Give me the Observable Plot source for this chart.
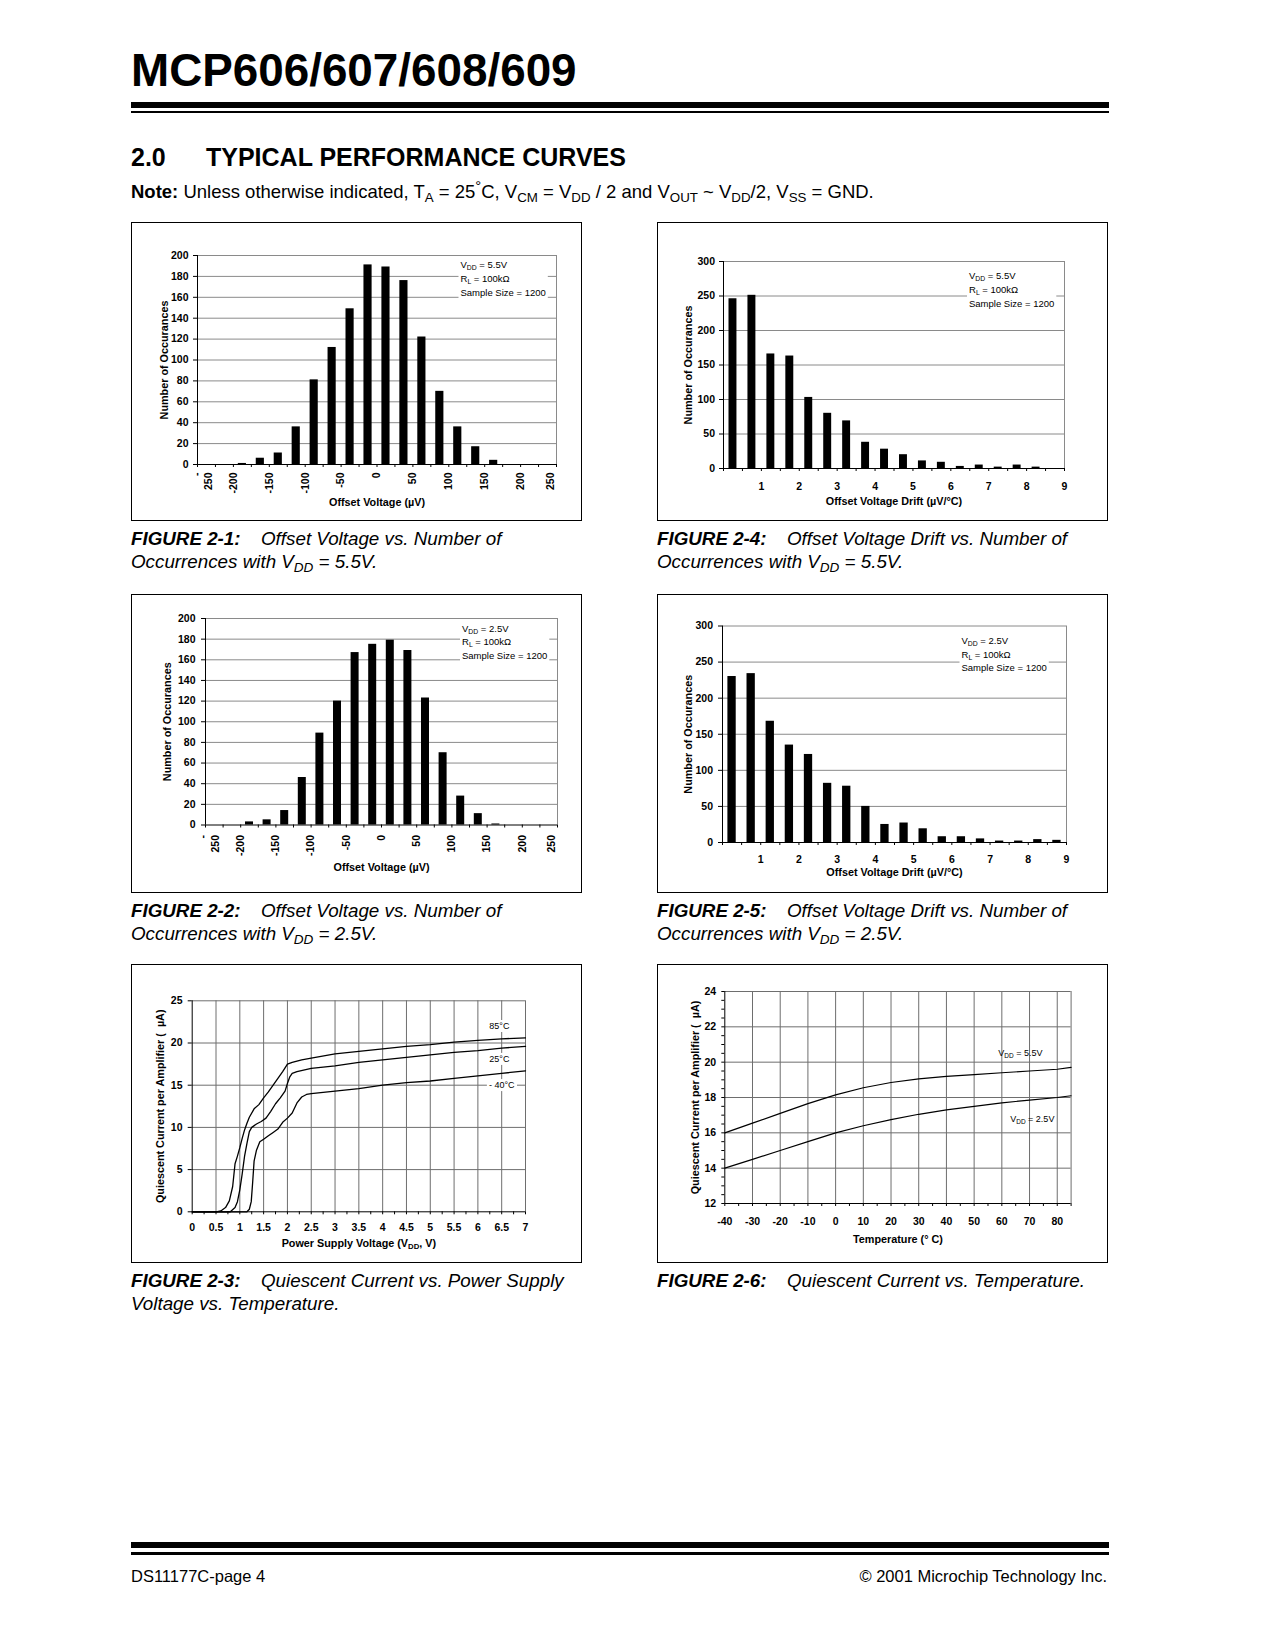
<!DOCTYPE html>
<html><head><meta charset="utf-8">
<script src="https://cdn.jsdelivr.net/npm/d3@7"></script>
<script src="https://cdn.jsdelivr.net/npm/@observablehq/plot@0.6"></script>
<style>
body{margin:0;background:#fff;}
#page{position:relative;width:1275px;height:1650px;font-family:'Liberation Sans',Arial,Helvetica,sans-serif;color:#000;overflow:hidden;background:#fff;}
.abs{position:absolute;white-space:nowrap;}
.rule{position:absolute;background:#000;}
.hd{font-size:25px;font-weight:bold;line-height:25px;}
.note{font-size:18.5px;line-height:18.5px;}
.box{position:absolute;width:451px;height:299px;}
.box .frame{position:absolute;left:0;top:0;right:0;bottom:0;border:1px solid #000;box-sizing:border-box;pointer-events:none;}
.box svg{position:absolute;left:0;top:0;}
.cap{position:absolute;white-space:nowrap;font-size:18.8px;line-height:23px;font-style:italic;}
.cap b{display:inline-block;width:130px;font-weight:bold;}
sub{font-size:72%;line-height:0;vertical-align:-0.28em;}
sup{font-size:80%;line-height:0;vertical-align:0.45em;}
.foot{font-size:16.5px;line-height:16.5px;}
</style></head>
<body>
<div id="page">
  <div class="abs" style="left:131px;top:48.3px;font-size:45.8px;line-height:45.8px;font-weight:bold;">MCP606/607/608/609</div>
  <div class="rule" style="left:131px;top:102px;width:978px;height:6px;"></div>
  <div class="rule" style="left:131px;top:111px;width:978px;height:2px;"></div>
  <div class="abs hd" style="left:131px;top:144.8px;">2.0</div>
  <div class="abs hd" style="left:206px;top:144.8px;">TYPICAL PERFORMANCE CURVES</div>
  <div class="abs note" style="left:131px;top:182.8px;"><b>Note:</b> Unless otherwise indicated, T<sub>A</sub> = 25<sup>°</sup>C, V<sub>CM</sub> = V<sub>DD</sub> / 2 and V<sub>OUT</sub> ~ V<sub>DD</sub>/2, V<sub>SS</sub> = GND.</div>

  <div class="box" id="figA" style="left:131px;top:222px;"><div class="frame"></div></div>
  <div class="box" id="figB" style="left:657px;top:222px;"><div class="frame"></div></div>
  <div class="cap" style="left:131px;top:527px;"><b>FIGURE 2-1:</b>Offset Voltage vs. Number of<br>Occurrences with V<sub>DD</sub> = 5.5V.</div>
  <div class="cap" style="left:657px;top:527px;"><b>FIGURE 2-4:</b>Offset Voltage Drift vs. Number of<br>Occurrences with V<sub>DD</sub> = 5.5V.</div>

  <div class="box" id="figC" style="left:131px;top:594px;"><div class="frame"></div></div>
  <div class="box" id="figD" style="left:657px;top:594px;"><div class="frame"></div></div>
  <div class="cap" style="left:131px;top:899px;"><b>FIGURE 2-2:</b>Offset Voltage vs. Number of<br>Occurrences with V<sub>DD</sub> = 2.5V.</div>
  <div class="cap" style="left:657px;top:899px;"><b>FIGURE 2-5:</b>Offset Voltage Drift vs. Number of<br>Occurrences with V<sub>DD</sub> = 2.5V.</div>

  <div class="box" id="figE" style="left:131px;top:964px;"><div class="frame"></div></div>
  <div class="box" id="figF" style="left:657px;top:964px;"><div class="frame"></div></div>
  <div class="cap" style="left:131px;top:1269px;"><b>FIGURE 2-3:</b>Quiescent Current vs. Power Supply<br>Voltage vs. Temperature.</div>
  <div class="cap" style="left:657px;top:1269px;"><b>FIGURE 2-6:</b>Quiescent Current vs. Temperature.</div>

  <div class="rule" style="left:131px;top:1542px;width:978px;height:6px;"></div>
  <div class="rule" style="left:131px;top:1552px;width:978px;height:2.5px;"></div>
  <div class="abs foot" style="left:131px;top:1568px;">DS11177C-page 4</div>
  <div class="abs foot" style="right:168px;top:1568px;">© 2001 Microchip Technology Inc.</div>
</div>
<script>
// ---------------- DATA ----------------
// Figure 2-1: Offset Voltage histogram, VDD = 5.5V (bins of 25 µV)
const fig1BinLo = [-250,-225,-200,-175,-150,-125,-100,-75,-50,-25,0,25,50,75,100,125,150,175,200,225];
const fig1Counts = [0,0,1,6,11,36,81,112,149,191,189,176,122,70,36,17,4,0,0,0];
const fig1YTicks = [0,20,40,60,80,100,120,140,160,180,200];
const fig1XTickValues = [-250,-200,-150,-100,-50,0,50,100,150,200,250];
const fig1XTickLabels = ["- 250","-200","-150","-100","-50","0","50","100","150","200","250"];
const fig1Notes = ["V_{DD} = 5.5V","R_{L} = 100kΩ","Sample Size = 1200"];

// Figure 2-2: Offset Voltage histogram, VDD = 2.5V
const fig2BinLo = [-250,-225,-200,-175,-150,-125,-100,-75,-50,-25,0,25,50,75,100,125,150,175,200,225];
const fig2Counts = [0,0,3,5,14,46,89,120,167,175,179,169,123,70,28,11,1,0,0,0];
const fig2YTicks = [0,20,40,60,80,100,120,140,160,180,200];
const fig2XTickValues = [-250,-200,-150,-100,-50,0,50,100,150,200,250];
const fig2XTickLabels = ["- 250","-200","-150","-100","-50","0","50","100","150","200","250"];
const fig2Notes = ["V_{DD} = 2.5V","R_{L} = 100kΩ","Sample Size = 1200"];

// Figure 2-4: Offset Voltage Drift histogram, VDD = 5.5V (bins of 0.5 µV/°C)
const fig4BinLo = [0,0.5,1,1.5,2,2.5,3,3.5,4,4.5,5,5.5,6,6.5,7,7.5,8,8.5];
const fig4Counts = [246,251,166,163,103,80,69,38,28,20,11,9,3,5,2,5,2,0];
const fig4YTicks = [0,50,100,150,200,250,300];
const fig4XTickValues = [1,2,3,4,5,6,7,8,9];
const fig4XTickLabels = ["1","2","3","4","5","6","7","8","9"];
const fig4Notes = ["V_{DD} = 5.5V","R_{L} = 100kΩ","Sample Size = 1200"];

// Figure 2-5: Offset Voltage Drift histogram, VDD = 2.5V
const fig5BinLo = [0,0.5,1,1.5,2,2.5,3,3.5,4,4.5,5,5.5,6,6.5,7,7.5,8,8.5];
const fig5Counts = [230,234,168,135,122,82,78,50,25,27,19,8,8,5,2,2,4,3];
const fig5YTicks = [0,50,100,150,200,250,300];
const fig5XTickValues = [1,2,3,4,5,6,7,8,9];
const fig5XTickLabels = ["1","2","3","4","5","6","7","8","9"];
const fig5Notes = ["V_{DD} = 2.5V","R_{L} = 100kΩ","Sample Size = 1200"];

// Figure 2-3: Quiescent current vs supply voltage, [VDD (V), IQ (µA)]
const fig3T85 = [[0,0],[0.5,0],[0.6,0.1],[0.7,0.5],[0.78,1.3],[0.85,3.0],[0.9,5.7],[0.95,6.6],[1.0,7.6],[1.05,8.7],[1.1,9.7],[1.15,10.5],[1.2,11.2],[1.3,12.2],[1.4,12.7],[1.5,13.5],[1.6,14.2],[1.7,15.0],[1.8,15.8],[1.9,16.6],[2.0,17.5],[2.1,17.7],[2.3,18.0],[2.5,18.2],[3.0,18.7],[3.5,19.0],[4.0,19.3],[4.5,19.6],[5.0,19.8],[5.5,20.1],[6.0,20.3],[6.5,20.5],[7.0,20.6]];
const fig3T25 = [[0,0],[0.8,0],[0.9,0.5],[0.95,1.2],[1.0,2.6],[1.05,4.5],[1.1,6.6],[1.15,8.1],[1.2,9.5],[1.25,10.0],[1.35,10.4],[1.45,10.7],[1.55,11.1],[1.65,11.9],[1.75,12.8],[1.85,13.5],[1.95,14.3],[2.0,15.2],[2.05,16.0],[2.1,16.4],[2.2,16.6],[2.5,17.0],[3.0,17.3],[3.5,17.7],[4.0,18.0],[4.5,18.3],[5.0,18.6],[5.5,18.9],[6.0,19.1],[6.5,19.4],[7.0,19.6]];
const fig3Tm40 = [[0,0],[1.15,0],[1.2,0.3],[1.24,1.2],[1.27,3.5],[1.3,6.0],[1.35,7.3],[1.42,8.3],[1.5,8.6],[1.6,9.0],[1.7,9.4],[1.8,9.8],[1.9,10.6],[2.0,11.1],[2.1,11.7],[2.2,12.9],[2.3,13.6],[2.4,13.9],[2.5,14.0],[3.0,14.3],[3.5,14.6],[4.0,15.0],[4.5,15.3],[5.0,15.5],[5.5,15.8],[6.0,16.1],[6.5,16.4],[7.0,16.7]];
const fig3YTicks = [0,5,10,15,20,25];
const fig3XTickValues = [0,0.5,1,1.5,2,2.5,3,3.5,4,4.5,5,5.5,6,6.5,7];
const fig3XTickLabels = ["0","0.5","1","1.5","2","2.5","3","3.5","4","4.5","5","5.5","6","6.5","7"];
const fig3SeriesLabels = ["85°C","25°C","- 40°C"];
const fig3LabelAt = [[6.45,22.0],[6.45,18.1],[6.5,15.0]];

// Figure 2-6: Quiescent current vs temperature, [T (°C), IQ (µA)]
const fig6Vdd55 = [[-40,16.0],[-30,16.55],[-20,17.1],[-10,17.65],[0,18.15],[10,18.55],[20,18.85],[30,19.05],[40,19.2],[50,19.3],[60,19.4],[70,19.5],[80,19.6],[85,19.7]];
const fig6Vdd25 = [[-40,14.0],[-30,14.5],[-20,15.0],[-10,15.5],[0,16.0],[10,16.4],[20,16.75],[30,17.05],[40,17.3],[50,17.5],[60,17.7],[70,17.85],[80,18.0],[85,18.1]];
const fig6YTicks = [12,14,16,18,20,22,24];
const fig6XTickValues = [-40,-30,-20,-10,0,10,20,30,40,50,60,70,80];
const fig6XTickLabels = ["-40","-30","-20","-10","0","10","20","30","40","50","60","70","80"];
const fig6SeriesLabels = ["V_{DD} = 5.5V","V_{DD} = 2.5V"];
const fig6LabelAt = [[66.7,20.5],[71,16.8]];

// ---------------- HELPERS ----------------
const FONT = "'Liberation Sans', Arial, Helvetica, sans-serif";
const GRID_H = "#8a8a8a", GRID_L = "#6e6e6e";
const FS_TICK = 10.5, FS_TITLE = 10.8, FS_NOTE = 9.5;
const W = 451, H = 299;
const SVGNS = "http://www.w3.org/2000/svg";
const styleObj = {fontFamily: FONT, fontSize: "10.5px", background: "transparent", overflow: "visible"};

function ticksX(vals, size){ return Plot.axisX ? Plot.axisX({ticks: vals, tickSize: size, tickFormat: () => "", label: null}) : null; }
function ticksY(vals, size){ return Plot.axisY ? Plot.axisY({ticks: vals, tickSize: size, tickFormat: () => "", label: null}) : null; }
function yLabels(vals, dx){
  return Plot.text(vals, {y: d => d, text: d => String(d), frameAnchor: "left", textAnchor: "end", lineAnchor: "middle", dx, fontWeight: "bold", fontSize: FS_TICK});
}
function xLabelsFlat(vals, labels, dy){
  return Plot.text(vals, {x: d => d, text: (d, i) => labels[i], frameAnchor: "bottom", textAnchor: "middle", lineAnchor: "middle", dy, fontWeight: "bold", fontSize: FS_TICK});
}
function xLabelsRot(vals, labels, dy, firstDx, lastDx){
  const n = vals.length;
  const mid = vals.slice(1, n - 1).map((v, i) => ({v, t: labels[i + 1]}));
  const parts = labels[0].split(" ");
  const common = {frameAnchor: "bottom", rotate: -90, textAnchor: "end", lineAnchor: "middle", dy, fontWeight: "bold", fontSize: FS_TICK};
  return [
    Plot.text(mid, {x: "v", text: "t", ...common}),
    Plot.text([vals[0]], {x: d => d, text: () => parts[0], ...common, dx: firstDx[0]}),
    Plot.text([vals[0]], {x: d => d, text: () => parts[1], ...common, dx: firstDx[1]}),
    Plot.text([vals[n - 1]], {x: d => d, text: () => labels[n - 1], ...common, dx: lastDx})
  ];
}
function yTitle(t, dx){ return Plot.text([t], {text: d => d, frameAnchor: "left", rotate: -90, textAnchor: "middle", lineAnchor: "middle", dx, fontWeight: "bold", fontSize: FS_TITLE}); }
function xTitle(t, dy){ return Plot.text([t], {text: d => d, frameAnchor: "bottom", textAnchor: "middle", lineAnchor: "middle", dy, fontWeight: "bold", fontSize: FS_TITLE}); }

function histChart(c){
  const data = c.lo.map((lo, i) => ({lo, hi: lo + c.binW, n: c.counts[i]}));
  const [x0, x1] = c.xDomain, [y0] = c.yDomain;
  const edges = c.lo.concat([x1]);
  return Plot.plot({
    width: W, height: H, ...c.margins, style: styleObj,
    x: {domain: c.xDomain, label: null}, y: {domain: c.yDomain, label: null},
    marks: [
      Plot.ruleY(c.yTicks.filter(v => v > y0), {stroke: GRID_H, strokeWidth: 1}),
      Plot.ruleX([x1], {stroke: GRID_H, strokeWidth: 1}),
      Plot.rectY(data, {x1: "lo", x2: "hi", y: "n", fill: "black", insetLeft: c.inset, insetRight: c.inset}),
      Plot.text(["¤" + c.notes.join("\n")], {text: d => d, frameAnchor: "top-right", textAnchor: "start", lineAnchor: "top", dx: c.noteDx, dy: c.noteDy, lineHeight: c.noteLH, fontSize: FS_NOTE}),
      Plot.ruleX([x0], {stroke: "black"}),
      Plot.ruleY([y0], {stroke: "black"}),
      ticksY(c.yTicks, 4),
      ticksX(edges, 3),
      yLabels(c.yTicks, c.yLabDx),
      c.xLabels,
      yTitle("Number of Occurances", c.yTitleDx),
      xTitle(c.xTitle, c.xTitleDy)
    ].flat().filter(Boolean)
  });
}

function finish(svg){
  const bg = [];
  svg.querySelectorAll("text").forEach(t => {
    if (t.textContent.indexOf("¤") >= 0) {
      bg.push(t);
      const w = document.createTreeWalker(t, NodeFilter.SHOW_TEXT);
      let n; while ((n = w.nextNode())) n.nodeValue = n.nodeValue.replace(/¤/g, "");
    }
    const tsp = Array.from(t.querySelectorAll("tspan"));
    const targets = tsp.length ? tsp : [t];
    const fs = parseFloat(getComputedStyle(t).fontSize) || 10;
    targets.forEach(node => {
      const s = node.textContent;
      if (!/[_^]\{/.test(s)) return;
      while (node.firstChild) node.removeChild(node.firstChild);
      const re = /([_^])\{([^}]*)\}/g; let last = 0, m;
      while ((m = re.exec(s))) {
        if (m.index > last) node.appendChild(document.createTextNode(s.slice(last, m.index)));
        const ts = document.createElementNS(SVGNS, "tspan");
        ts.setAttribute("font-size", (fs * 0.72).toFixed(2));
        ts.setAttribute("baseline-shift", m[1] === "_" ? (-fs * 0.22).toFixed(2) : (fs * 0.35).toFixed(2));
        ts.textContent = m[2];
        node.appendChild(ts);
        last = re.lastIndex;
      }
      if (last < s.length) node.appendChild(document.createTextNode(s.slice(last)));
    });
  });
  bg.forEach(t => {
    const b = t.getBBox();
    const r = document.createElementNS(SVGNS, "rect");
    r.setAttribute("x", b.x - 2); r.setAttribute("y", b.y - 1);
    r.setAttribute("width", b.width + 4); r.setAttribute("height", b.height + 2);
    r.setAttribute("fill", "white");
    const tr = t.getAttribute("transform"); if (tr) r.setAttribute("transform", tr);
    t.parentNode.insertBefore(r, t);
  });
}
function place(id, svg){ const box = document.getElementById(id); box.insertBefore(svg, box.firstChild); finish(svg); }

// ---------------- CHARTS ----------------
place("figA", histChart({
  lo: fig1BinLo, counts: fig1Counts, binW: 25, inset: 4.9,
  xDomain: [-250, 250], yDomain: [0, 200], yTicks: fig1YTicks,
  margins: {marginLeft: 66, marginRight: 26, marginTop: 33, marginBottom: 57},
  notes: fig1Notes, noteDx: -96, noteDy: 3, noteLH: 1.45,
  yLabDx: -9, yTitleDx: -33,
  xLabels: xLabelsRot(fig1XTickValues, fig1XTickLabels, 8, [-1, 11], -6),
  xTitle: "Offset Voltage (µV)", xTitleDy: 38
}));
place("figB", histChart({
  lo: fig4BinLo, counts: fig4Counts, binW: 0.5, inset: 5.5,
  xDomain: [0, 9], yDomain: [0, 300], yTicks: fig4YTicks,
  margins: {marginLeft: 66, marginRight: 44, marginTop: 39, marginBottom: 53},
  notes: fig4Notes, noteDx: -95.5, noteDy: 8, noteLH: 1.44,
  yLabDx: -8.5, yTitleDx: -34.5,
  xLabels: xLabelsFlat(fig4XTickValues, fig4XTickLabels, 18.5),
  xTitle: "Offset Voltage Drift (µV/°C)", xTitleDy: 33
}));
place("figC", histChart({
  lo: fig2BinLo, counts: fig2Counts, binW: 25, inset: 4.8,
  xDomain: [-250, 250], yDomain: [0, 200], yTicks: fig2YTicks,
  margins: {marginLeft: 74, marginRight: 25, marginTop: 24, marginBottom: 68.5},
  notes: fig2Notes, noteDx: -95.5, noteDy: 3.3, noteLH: 1.44,
  yLabDx: -10, yTitleDx: -37.5,
  xLabels: xLabelsRot(fig2XTickValues, fig2XTickLabels, 10, [-2.5, 10], -6),
  xTitle: "Offset Voltage (µV)", xTitleDy: 43
}));
place("figD", histChart({
  lo: fig5BinLo, counts: fig5Counts, binW: 0.5, inset: 5.4,
  xDomain: [0, 9], yDomain: [0, 300], yTicks: fig5YTicks,
  margins: {marginLeft: 65, marginRight: 42, marginTop: 31.5, marginBottom: 51},
  notes: fig5Notes, noteDx: -105, noteDy: 9, noteLH: 1.4,
  yLabDx: -9.5, yTitleDx: -33.5,
  xLabels: xLabelsFlat(fig5XTickValues, fig5XTickLabels, 17),
  xTitle: "Offset Voltage Drift (µV/°C)", xTitleDy: 30.5
}));

// Figure 2-3
place("figE", Plot.plot({
  width: W, height: H, marginLeft: 60.7, marginRight: 57, marginTop: 36.3, marginBottom: 51.7, style: styleObj,
  x: {domain: [0, 7], label: null}, y: {domain: [0, 25], label: null},
  marks: [
    Plot.ruleX(fig3XTickValues.filter(v => v > 0), {stroke: GRID_L, strokeWidth: 1}),
    Plot.ruleY(fig3YTicks.filter(v => v > 0), {stroke: GRID_L, strokeWidth: 1}),
    Plot.line(fig3T85, {x: d => d[0], y: d => d[1], stroke: "black", strokeWidth: 1.3}),
    Plot.line(fig3T25, {x: d => d[0], y: d => d[1], stroke: "black", strokeWidth: 1.3}),
    Plot.line(fig3Tm40, {x: d => d[0], y: d => d[1], stroke: "black", strokeWidth: 1.3}),
    Plot.text(fig3LabelAt, {x: d => d[0], y: d => d[1], text: (d, i) => "¤" + fig3SeriesLabels[i], fontSize: 9, lineAnchor: "middle"}),
    Plot.ruleX([0], {stroke: "black"}),
    Plot.ruleY([0], {stroke: "black"}),
    ticksY(fig3YTicks, 4),
    ticksX(d3.range(0, 7.01, 0.25), 3),
    yLabels(fig3YTicks, -9.7),
    xLabelsFlat(fig3XTickValues, fig3XTickLabels, 16),
    yTitle("Quiescent Current per Amplifier (  µA)", -31.7),
    xTitle("Power Supply Voltage (V_{DD}, V)", 31.5)
  ].flat().filter(Boolean)
}));

// Figure 2-6
place("figF", Plot.plot({
  width: W, height: H, marginLeft: 67.3, marginRight: 37.4, marginTop: 27, marginBottom: 60, style: styleObj,
  x: {domain: [-40, 85], label: null}, y: {domain: [12, 24], label: null},
  marks: [
    Plot.ruleX(fig6XTickValues.filter(v => v > -40).concat([85]), {stroke: GRID_L, strokeWidth: 1}),
    Plot.ruleY(fig6YTicks.filter(v => v > 12), {stroke: GRID_L, strokeWidth: 1}),
    Plot.line(fig6Vdd55, {x: d => d[0], y: d => d[1], stroke: "black", strokeWidth: 1.2}),
    Plot.line(fig6Vdd25, {x: d => d[0], y: d => d[1], stroke: "black", strokeWidth: 1.2}),
    Plot.text(fig6LabelAt, {x: d => d[0], y: d => d[1], text: (d, i) => fig6SeriesLabels[i], fontSize: 9, lineAnchor: "middle"}),
    Plot.ruleX([-40], {stroke: "black"}),
    Plot.ruleY([12], {stroke: "black"}),
    ticksY(d3.range(12, 24.01, 0.5), 3),
    ticksX(d3.range(-40, 85.01, 5), 3),
    yLabels(fig6YTicks, -8.6),
    xLabelsFlat(fig6XTickValues, fig6XTickLabels, 18),
    yTitle("Quiescent Current per Amplifier (  µA)", -29),
    xTitle("Temperature (° C)", 36)
  ].flat().filter(Boolean)
}));
</script>
</body></html>
